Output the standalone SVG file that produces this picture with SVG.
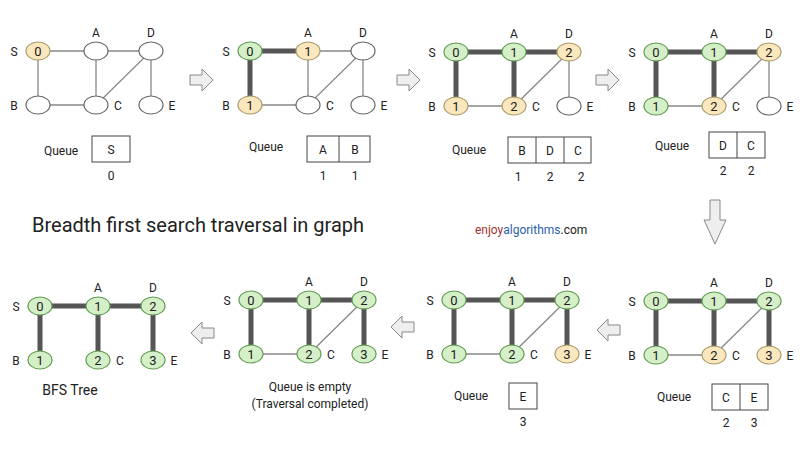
<svg xmlns="http://www.w3.org/2000/svg" width="800" height="450" viewBox="0 0 800 450">
<style>
text{font-family:"Roboto","Liberation Sans",sans-serif;fill:#222}
.l{font-size:12px;text-anchor:middle}
.n{font-size:13px;text-anchor:middle}
.e{fill:#fff;stroke:#666;stroke-width:1.2}
.g{fill:#d5f0c8;stroke:#5f9a50;stroke-width:1.2}
.y{fill:#fbe7bd;stroke:#a89a6a;stroke-width:1.2}
.t{stroke:#888;stroke-width:1.3;fill:none}
.k{stroke:#555;stroke-width:5;fill:none}
.q{fill:#fff;stroke:#444;stroke-width:1}
.ar{fill:#eee;stroke:#888;stroke-width:1}
</style>
<defs>
<g id="lab">
<text class="l" x="-24" y="5">S</text><text class="l" x="58" y="-14">A</text><text class="l" x="113" y="-14">D</text>
<text class="l" x="-24" y="59">B</text><text class="l" x="80" y="59">C</text><text class="l" x="134" y="59">E</text>
</g>
</defs>
<rect width="800" height="450" fill="#fff"/>
<g id="connectors">
<!-- panel 1 -->
<g transform="translate(38,51)"><path class="t" d="M0,0H113M0,0V54H58M58,0V54L113,0V54"/></g>
<g transform="translate(250,51)"><path class="t" d="M58,0H113M0,54H58M58,0V54L113,0V54"/><path class="k" d="M0,0H58M0,0V54"/></g>
<g transform="translate(456,52)"><path class="t" d="M0,54H58L113,0V54"/><path class="k" d="M0,0H113M0,0V54M58,0V54"/></g>
<g transform="translate(656,52)"><path class="t" d="M0,54H58L113,0V54"/><path class="k" d="M0,0H113M0,0V54M58,0V54"/></g>
<g transform="translate(656,301)"><path class="t" d="M0,54H58L113,0"/><path class="k" d="M0,0H113M0,0V54M58,0V54M113,0V54"/></g>
<g transform="translate(454,300)"><path class="t" d="M0,54H58L113,0"/><path class="k" d="M0,0H113M0,0V54M58,0V54M113,0V54"/></g>
<g transform="translate(251,300)"><path class="t" d="M0,54H58L113,0"/><path class="k" d="M0,0H113M0,0V54M58,0V54M113,0V54"/></g>
<g transform="translate(40,306)"><path class="k" d="M0,0H113M0,0V54M58,0V54M113,0V54"/></g>
<!-- block arrows -->
<path class="ar" d="M190,75h12v-6l11,11l-11,11v-6h-12z"/>
<path class="ar" d="M397,75h12v-6l11,11l-11,11v-6h-12z"/>
<path class="ar" d="M596,75h12v-6l11,11l-11,11v-6h-12z"/>
<path class="ar" d="M710,200v20h-6l11,24l11,-24h-6v-20z"/>
<path class="ar" d="M620,325h-12v-6l-11,11l11,11v-6h12z"/>
<path class="ar" d="M414,322h-12v-6l-11,11l11,11v-6h12z"/>
<path class="ar" d="M214,328h-12v-6l-11,11l11,11v-6h12z"/>
</g>
<!-- panel 1 nodes -->
<g id="p1" transform="translate(38,51)">
<g id="p1-S"><ellipse class="y" cx="0" cy="0" rx="12" ry="9"/><text class="n" x="0" y="5">0</text></g>
<g id="p1-A"><ellipse class="e" cx="58" cy="0" rx="12" ry="9"/></g>
<g id="p1-D"><ellipse class="e" cx="113" cy="0" rx="12" ry="9"/></g>
<g id="p1-B"><ellipse class="e" cx="0" cy="54" rx="12" ry="9"/></g>
<g id="p1-C"><ellipse class="e" cx="58" cy="54" rx="12" ry="9"/></g>
<g id="p1-E"><ellipse class="e" cx="113" cy="54" rx="12" ry="9"/></g>
<use href="#lab"/>
</g>
<g id="p2" transform="translate(250,51)">
<g id="p2-S"><ellipse class="g" cx="0" cy="0" rx="12" ry="9"/><text class="n" x="0" y="5">0</text></g>
<g id="p2-A"><ellipse class="y" cx="58" cy="0" rx="12" ry="9"/><text class="n" x="58" y="5">1</text></g>
<g id="p2-D"><ellipse class="e" cx="113" cy="0" rx="12" ry="9"/></g>
<g id="p2-B"><ellipse class="y" cx="0" cy="54" rx="12" ry="9"/><text class="n" x="0" y="59">1</text></g>
<g id="p2-C"><ellipse class="e" cx="58" cy="54" rx="12" ry="9"/></g>
<g id="p2-E"><ellipse class="e" cx="113" cy="54" rx="12" ry="9"/></g>
<use href="#lab"/>
</g>
<g id="p3" transform="translate(456,52)">
<g id="p3-S"><ellipse class="g" cx="0" cy="0" rx="12" ry="9"/><text class="n" x="0" y="5">0</text></g>
<g id="p3-A"><ellipse class="g" cx="58" cy="0" rx="12" ry="9"/><text class="n" x="58" y="5">1</text></g>
<g id="p3-D"><ellipse class="y" cx="113" cy="0" rx="12" ry="9"/><text class="n" x="113" y="5">2</text></g>
<g id="p3-B"><ellipse class="y" cx="0" cy="54" rx="12" ry="9"/><text class="n" x="0" y="59">1</text></g>
<g id="p3-C"><ellipse class="y" cx="58" cy="54" rx="12" ry="9"/><text class="n" x="58" y="59">2</text></g>
<g id="p3-E"><ellipse class="e" cx="113" cy="54" rx="12" ry="9"/></g>
<use href="#lab"/>
</g>
<g id="p4" transform="translate(656,52)">
<g id="p4-S"><ellipse class="g" cx="0" cy="0" rx="12" ry="9"/><text class="n" x="0" y="5">0</text></g>
<g id="p4-A"><ellipse class="g" cx="58" cy="0" rx="12" ry="9"/><text class="n" x="58" y="5">1</text></g>
<g id="p4-D"><ellipse class="y" cx="113" cy="0" rx="12" ry="9"/><text class="n" x="113" y="5">2</text></g>
<g id="p4-B"><ellipse class="g" cx="0" cy="54" rx="12" ry="9"/><text class="n" x="0" y="59">1</text></g>
<g id="p4-C"><ellipse class="y" cx="58" cy="54" rx="12" ry="9"/><text class="n" x="58" y="59">2</text></g>
<g id="p4-E"><ellipse class="e" cx="113" cy="54" rx="12" ry="9"/></g>
<use href="#lab"/>
</g>
<g id="p5" transform="translate(656,301)">
<g id="p5-S"><ellipse class="g" cx="0" cy="0" rx="12" ry="9"/><text class="n" x="0" y="5">0</text></g>
<g id="p5-A"><ellipse class="g" cx="58" cy="0" rx="12" ry="9"/><text class="n" x="58" y="5">1</text></g>
<g id="p5-D"><ellipse class="g" cx="113" cy="0" rx="12" ry="9"/><text class="n" x="113" y="5">2</text></g>
<g id="p5-B"><ellipse class="g" cx="0" cy="54" rx="12" ry="9"/><text class="n" x="0" y="59">1</text></g>
<g id="p5-C"><ellipse class="y" cx="58" cy="54" rx="12" ry="9"/><text class="n" x="58" y="59">2</text></g>
<g id="p5-E"><ellipse class="y" cx="113" cy="54" rx="12" ry="9"/><text class="n" x="113" y="59">3</text></g>
<use href="#lab"/>
</g>
<g id="p6" transform="translate(454,300)">
<g id="p6-S"><ellipse class="g" cx="0" cy="0" rx="12" ry="9"/><text class="n" x="0" y="5">0</text></g>
<g id="p6-A"><ellipse class="g" cx="58" cy="0" rx="12" ry="9"/><text class="n" x="58" y="5">1</text></g>
<g id="p6-D"><ellipse class="g" cx="113" cy="0" rx="12" ry="9"/><text class="n" x="113" y="5">2</text></g>
<g id="p6-B"><ellipse class="g" cx="0" cy="54" rx="12" ry="9"/><text class="n" x="0" y="59">1</text></g>
<g id="p6-C"><ellipse class="g" cx="58" cy="54" rx="12" ry="9"/><text class="n" x="58" y="59">2</text></g>
<g id="p6-E"><ellipse class="y" cx="113" cy="54" rx="12" ry="9"/><text class="n" x="113" y="59">3</text></g>
<use href="#lab"/>
</g>
<g id="p7" transform="translate(251,300)">
<g id="p7-S"><ellipse class="g" cx="0" cy="0" rx="12" ry="9"/><text class="n" x="0" y="5">0</text></g>
<g id="p7-A"><ellipse class="g" cx="58" cy="0" rx="12" ry="9"/><text class="n" x="58" y="5">1</text></g>
<g id="p7-D"><ellipse class="g" cx="113" cy="0" rx="12" ry="9"/><text class="n" x="113" y="5">2</text></g>
<g id="p7-B"><ellipse class="g" cx="0" cy="54" rx="12" ry="9"/><text class="n" x="0" y="59">1</text></g>
<g id="p7-C"><ellipse class="g" cx="58" cy="54" rx="12" ry="9"/><text class="n" x="58" y="59">2</text></g>
<g id="p7-E"><ellipse class="g" cx="113" cy="54" rx="12" ry="9"/><text class="n" x="113" y="59">3</text></g>
<use href="#lab"/>
</g>
<g id="p8" transform="translate(40,306)">
<g id="p8-S"><ellipse class="g" cx="0" cy="0" rx="12" ry="9"/><text class="n" x="0" y="5">0</text></g>
<g id="p8-A"><ellipse class="g" cx="58" cy="0" rx="12" ry="9"/><text class="n" x="58" y="5">1</text></g>
<g id="p8-D"><ellipse class="g" cx="113" cy="0" rx="12" ry="9"/><text class="n" x="113" y="5">2</text></g>
<g id="p8-B"><ellipse class="g" cx="0" cy="54" rx="12" ry="9"/><text class="n" x="0" y="59">1</text></g>
<g id="p8-C"><ellipse class="g" cx="58" cy="54" rx="12" ry="9"/><text class="n" x="58" y="59">2</text></g>
<g id="p8-E"><ellipse class="g" cx="113" cy="54" rx="12" ry="9"/><text class="n" x="113" y="59">3</text></g>
<use href="#lab"/>
</g>
<!-- queues -->
<g id="q1"><text class="l" x="61" y="155">Queue</text><rect class="q" x="92" y="136" width="38" height="26"/><text class="l" x="111" y="154">S</text><text class="l" x="111" y="180">0</text></g>
<g id="q2"><text class="l" x="266" y="151">Queue</text><rect class="q" x="307" y="136" width="63" height="26"/><path class="q" d="M339,136V162"/><text class="l" x="323" y="154">A</text><text class="l" x="355" y="154">B</text><text class="l" x="323" y="180">1</text><text class="l" x="355" y="180">1</text></g>
<g id="q3"><text class="l" x="469" y="154">Queue</text><rect class="q" x="508" y="137" width="83" height="26"/><path class="q" d="M536,137V163M564,137V163"/><text class="l" x="522" y="155">B</text><text class="l" x="550" y="155">D</text><text class="l" x="578" y="155">C</text><text class="l" x="518" y="181">1</text><text class="l" x="550" y="181">2</text><text class="l" x="581" y="181">2</text></g>
<g id="q4"><text class="l" x="672" y="150">Queue</text><rect class="q" x="709" y="132" width="56" height="26"/><path class="q" d="M737,132V158"/><text class="l" x="723" y="150">D</text><text class="l" x="751" y="150">C</text><text class="l" x="723" y="175">2</text><text class="l" x="751" y="175">2</text></g>
<g id="q5"><text class="l" x="674" y="401">Queue</text><rect class="q" x="712" y="384" width="56" height="26"/><path class="q" d="M740,384V410"/><text class="l" x="726" y="402">C</text><text class="l" x="754" y="402">E</text><text class="l" x="726" y="427">2</text><text class="l" x="754" y="427">3</text></g>
<g id="q6"><text class="l" x="471" y="400">Queue</text><rect class="q" x="509" y="383" width="28" height="26"/><text class="l" x="523" y="401">E</text><text class="l" x="523" y="426">3</text></g>
<text class="l" x="310" y="391">Queue is empty</text>
<text class="l" x="310" y="408">(Traversal completed)</text>
<text x="70" y="395" style="font-size:14px;text-anchor:middle">BFS Tree</text>
<text x="32" y="232" style="font-size:20px">Breadth first search traversal in graph</text>
<text x="475" y="234" style="font-size:12px"><tspan style="fill:#a3342e">enjoy</tspan><tspan style="fill:#2a5fa8">algorithms</tspan><tspan>.com</tspan></text>
</svg>
